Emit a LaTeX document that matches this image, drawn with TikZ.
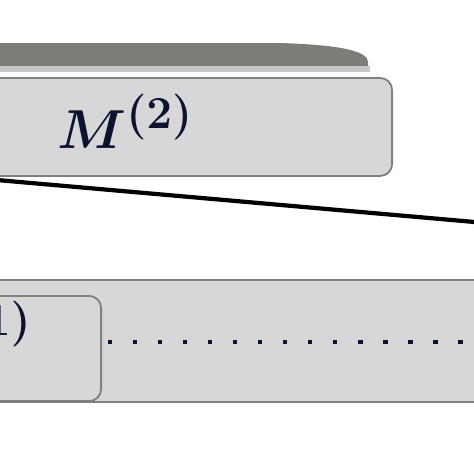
\documentclass[tikz,border=0pt]{standalone}
\usepackage{amssymb,amsmath}
\usepackage{tikz}
\usetikzlibrary{positioning,shapes,arrows}

\definecolor{boxfill}{HTML}{D7D7D7}
\definecolor{boxline}{HTML}{7F7F7F}
\definecolor{barfill}{HTML}{7C7C78}
\definecolor{inkblue}{HTML}{0C1230}
\newcommand{\layername}[1]{\scalebox{1.57}{$M^{(#1)}$}}

\begin{document}
\begin{tikzpicture}[
  x=0.025cm, y=-0.025cm,
  mybox/.style={draw=boxline,fill=boxfill,line width=1.3pt,rounded corners=0.3cm,inner sep=0pt},
  mylabel/.style={inner sep=0pt,text=inkblue,font=\Huge\boldmath},
  myline/.style={line width=3pt,black},
  mydots/.style={inkblue,line width=3pt,dash pattern=on 3pt off 14.8pt}
]
\useasboundingbox (0,0) rectangle (474,474);
\clip (0,0) rectangle (474,474);

% upper layer
\fill[barfill] (-20,43) -- (280,43) .. controls (345,45) and (368,52) .. (368,62) -- (368,66) -- (-20,66) -- cycle;
\fill[gray!45] (-20,66) rectangle (370,72);
\node[mybox,minimum width=13.6cm,minimum height=2.45cm,anchor=north east] (M2box) at (393,77) {};
\node[mylabel,anchor=base west] (M2) at (57,148) {\layername{2}};

\coordinate (lin1) at (-60,175);
\coordinate (lin2) at (520,226);
\draw[myline] (lin1) -- (lin2);

% lower layer
\node[mybox,rounded corners=0pt,minimum width=15cm,minimum height=3.05cm,anchor=north west] (layer1) at (-50,279) {};
\node[mybox,minimum width=4cm,minimum height=2.63cm,anchor=north east] (M1box) at (102,295) {};
\node[mylabel,anchor=base east] (M1) at (32,355) {\layername{1}};

\coordinate (dotend) at (480,342);
\draw[mydots] (M1box.east |- dotend) ++(6,0) -- (dotend);

\end{tikzpicture}
\end{document}
